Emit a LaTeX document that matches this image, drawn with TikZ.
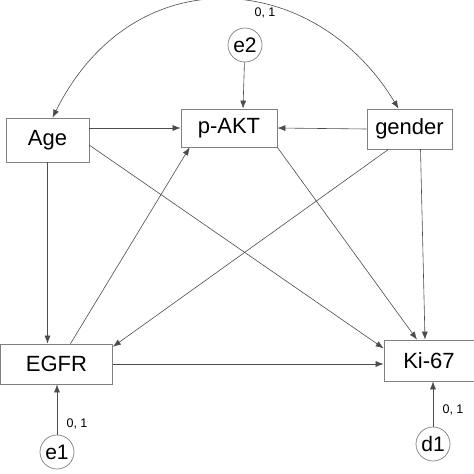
\documentclass[tikz,border=0pt]{standalone}
\usepackage{fontspec}
\setmainfont{Liberation Sans}
\usetikzlibrary{arrows.meta}
\begin{document}
\begin{tikzpicture}[x=1pt,y=-1pt,
   obs/.style={draw=gray,line width=0.7pt,inner sep=0pt,font=\fontsize{22}{26}\selectfont},
   err/.style={draw=gray,circle,line width=0.7pt,minimum size=34pt,inner sep=0pt,font=\fontsize{21}{25}\selectfont},
   var/.style={font=\fontsize{12.5}{15}\selectfont},
   arr/.style={->,>={Latex[length=8pt,width=6pt]},draw=gray!60!black,line width=0.6pt}]
     \useasboundingbox (0,0) rectangle (474,474);

     \node[obs,minimum width=83pt,minimum height=44pt] (Age) at (47.5,140) {Age};
     \node[obs,minimum width=96pt,minimum height=38pt] (pAKT) at (229,128) {p-AKT};
     \node[obs,minimum width=85pt,minimum height=40pt] (gender) at (409.5,129) {gender};
     \node[obs,minimum width=112pt,minimum height=40pt] (EGFR) at (56.5,364) {EGFR};
     \node[obs,minimum width=90pt,minimum height=41pt] (Ki67) at (429,360.5) {Ki-67};

     \node[err] (e2) at (245,45) {e2};
     \node[err] (e1) at (57,452) {e1};
     \node[err] (d1) at (433,444) {d1};
     \node[var] (v2) at (265,13) {0, 1};
     \node[var] (v1) at (77,424) {0, 1};
     \node[var] (vd) at (453,410) {0, 1};

     % covariance
     \draw[arr,<->] ([xshift=5pt]Age.north) .. controls (134,-45) and (315,-30) .. ([xshift=-11pt]gender.north);

     \draw[arr] (Age.east |- pAKT.west) -- (pAKT.west);
     \draw[arr] (gender.west) -- (pAKT.east);
     \draw[arr] (e2) -- ([xshift=14pt]pAKT.north);
     \draw[arr] (Age.south) -- (Age.south |- EGFR.north);
     \draw[arr] (Age.353) -- (Ki67.165);
     \draw[arr] ([xshift=14pt]EGFR.north) -- ([xshift=9pt]pAKT.south west);
     \draw[arr] (pAKT.south east) -- ([xshift=-12pt]Ki67.north);
     \draw[arr] ([xshift=-21pt]gender.south) -- (EGFR.17);
     \draw[arr] ([xshift=11pt]gender.south) -- ([xshift=-4pt]Ki67.north);
     \draw[arr] (EGFR.east) -- (EGFR.east -| Ki67.west);
     \draw[arr] (e1) -- (e1 |- EGFR.south);
     \draw[arr] (d1) -- (d1 |- Ki67.south);
\end{tikzpicture}
\end{document}
